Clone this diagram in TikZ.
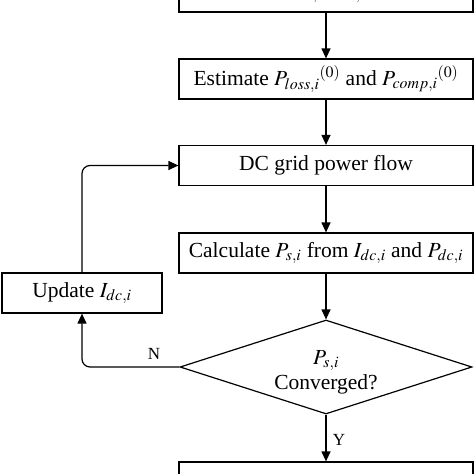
\documentclass[tikz,border=0pt]{standalone}
\usepackage{mathptmx}
\usepackage{fontspec}
\setmainfont{Liberation Serif}
\usetikzlibrary{shapes.geometric,arrows.meta}

\tikzset{
    stepbox/.style={draw, line width=1.2pt, minimum width=294pt, minimum height=40pt,
        inner sep=0pt, font=\fontsize{21.5}{24}\selectfont},
    testbox/.style={draw, diamond, aspect=3.1, line width=1.2pt, minimum width=292pt,
        minimum height=94pt, inner sep=0pt, align=center,
        font=\fontsize{21.5}{25}\selectfont},
    flow/.style={line width=1.2pt, -{Triangle[length=10pt,width=9pt]}},
    tag/.style={font=\fontsize{17}{20}\selectfont}
}

\begin{document}
\begin{tikzpicture}[x=1pt,y=-1pt]

    % Page size of the reference
    \useasboundingbox (0,0) rectangle (474,474);
    \clip (0,0) rectangle (474,474);

    % Main column of steps
    \node[stepbox] (init) at (326,-8) {$P_{dc,i}$, $I_{dc,i}$};
    \node[stepbox] (est) at (326,79) {Estimate $P_{loss,i}{}^{(0)}$ and $P_{comp,i}{}^{(0)}$};
    \node[stepbox] (dcpf) at (326,165.5) {DC grid power flow};
    \node[stepbox] (calc) at (326,253) {Calculate $P_{s,i}$ from $I_{dc,i}$ and $P_{dc,i}$};
    % \rule lowers both lines a little inside the diamond
    \node[testbox] (conv) at (326,367) {\rule{0pt}{24pt}$P_{s,i}$\\Converged?};
    \node[stepbox] (done) at (326,482) {};

    % Side step of the loop
    \node[stepbox, minimum width=160pt] (upd) at (82,293) {Update $I_{dc,i}$};

    % Arrows down the column
    \draw[flow] (init) -- (est);
    \draw[flow] (est) -- (dcpf);
    \draw[flow] (dcpf) -- (calc);
    \draw[flow] (calc) -- (conv);
    \draw[flow] (conv) -- node[tag, right, pos=0.55, xshift=3pt] {Y} (done);

    % Loop back when not converged
    \draw[flow, rounded corners=8pt] (conv.west) -| node[tag, above=4pt, pos=0.13] {N} (upd.south);
    \draw[flow, rounded corners=8pt] (upd.north) |- (dcpf.west);

\end{tikzpicture}
\end{document}
